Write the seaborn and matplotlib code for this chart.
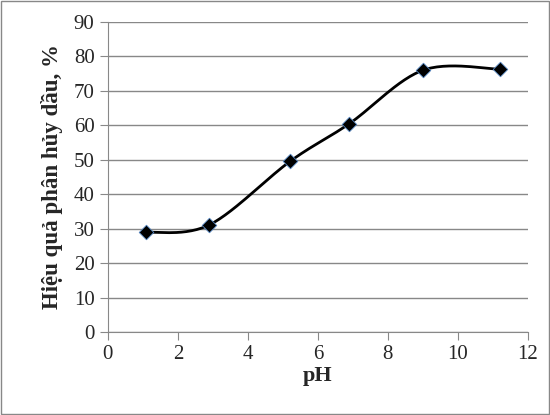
import numpy as np
import matplotlib
matplotlib.use("Agg")
import matplotlib.pyplot as plt
import seaborn as sns

ph = [1.1, 2.9, 5.2, 6.9, 9.0, 11.2]
hieu_qua = [28.9, 31.1, 49.5, 60.5, 76.0, 76.3]

sns.set_style("white")
plt.rcParams['font.family'] = ['Liberation Serif', 'DejaVu Serif']


def smooth(x, y, n=30):
    # Excel-like Catmull-Rom smoothing
    x = np.asarray(x, float); y = np.asarray(y, float)
    px = np.concatenate([[x[0]], x, [x[-1]]])
    py = np.concatenate([[y[0]], y, [y[-1]]])
    xs, ys = [], []
    t = np.linspace(0, 1, n)
    for i in range(1, len(px) - 2):
        p0, p1, p2, p3 = [np.array([px[j], py[j]]) for j in range(i - 1, i + 3)]
        c1 = p1 + (p2 - p0) / 6
        c2 = p2 - (p3 - p1) / 6
        pts = ((1 - t) ** 3)[:, None] * p1 + (3 * (1 - t) ** 2 * t)[:, None] * c1 \
            + (3 * (1 - t) * t ** 2)[:, None] * c2 + (t ** 3)[:, None] * p2
        xs.extend(pts[:, 0]); ys.extend(pts[:, 1])
    return xs, ys


fig, ax = plt.subplots(figsize=(5.5, 4.15), dpi=100)
fig.subplots_adjust(left=0.196, right=0.96, bottom=0.2, top=0.947)

sx, sy = smooth(ph, hieu_qua)
sns.lineplot(x=sx, y=sy, ax=ax, color="black", linewidth=2, sort=False)
sns.scatterplot(x=ph, y=hieu_qua, ax=ax, marker="D", s=55, color="black",
                edgecolor="#4f81bd", linewidth=0.6, zorder=3)

ax.set_xlim(0, 12)
ax.set_ylim(0, 90)
ax.set_xticks(range(0, 13, 2))
ax.set_yticks(range(0, 91, 10))
ax.yaxis.grid(True, color="#888888", linewidth=1)
ax.set_axisbelow(True)
for s in ["top", "right"]:
    ax.spines[s].set_visible(False)
for s in ["left", "bottom"]:
    ax.spines[s].set_color("#888888")
ax.tick_params(axis="both", labelsize=15, direction="out", length=6, color="#888888",
               bottom=True, left=True)
ax.set_xlabel("pH", fontsize=16, fontweight="bold", labelpad=1)
ax.set_ylabel("Hiệu quả phân hủy dầu, %", fontsize=16.5, fontweight="bold", labelpad=8)

fig.patches.append(plt.Rectangle((0.002, 0.002), 0.996, 0.996, transform=fig.transFigure,
                                 fill=False, edgecolor="#888888", linewidth=1))
fig.savefig("out.png", dpi=100)
